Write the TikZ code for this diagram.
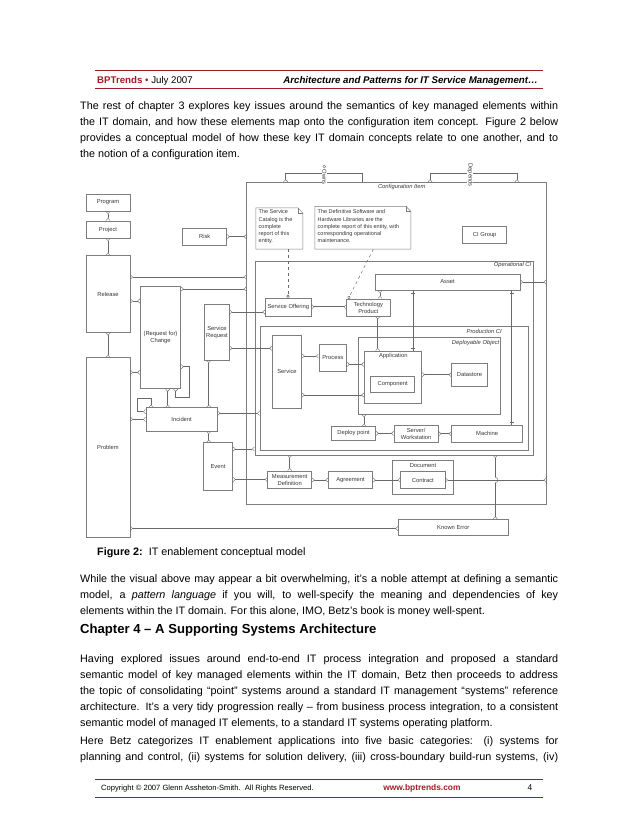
\documentclass[tikz,border=0pt]{standalone}
\usepackage{fontspec}
\setmainfont{Liberation Sans}
\usetikzlibrary{arrows.meta,decorations.markings}
\definecolor{bpred}{RGB}{158,30,38}
\definecolor{linec}{RGB}{105,105,105}
\definecolor{boxc}{RGB}{125,125,125}
\definecolor{txtc}{RGB}{55,55,55}
\newcommand\bodyfnt{\fontsize{10.8}{12}\selectfont}
\newcommand\dgfnt{\fontsize{5.8}{6.8}\selectfont}
\newcommand\notefnt{\fontsize{5.5}{7.25}\selectfont}
\newcommand\bx[7][box]{%
  \pgfmathsetmacro\bxw{#5-#3}\pgfmathsetmacro\bxh{#6-#4}%
  \pgfmathsetmacro\bxcx{(#3+#5)/2}\pgfmathsetmacro\bxcy{(#4+#6)/2}%
  \node[#1, minimum width=\bxw pt, minimum height=\bxh pt] (#2) at (\bxcx,\bxcy) {#7};}
\newcommand\jline[3]{\node[anchor=base west,inner sep=0pt,font=\bodyfnt] (#1) at (80,#2) {\makebox[478pt][s]{#3}};}
\newcommand\lline[3]{\node[anchor=base west,inner sep=0pt,font=\bodyfnt] (#1) at (80,#2) {#3};}
\begin{document}
\begin{tikzpicture}[x=1pt,y=-1pt,
  crow/.tip={Straight Barb[reversed,length=2.2pt,width=4.2pt,line width=0.4pt]},
  rel/.style={draw=linec,line width=0.45pt,crow-crow},
  relend/.style={draw=linec,line width=0.45pt,-crow},
  relstart/.style={draw=linec,line width=0.45pt,crow-},
  plain/.style={draw=linec,line width=0.45pt},
  one/.style={draw=linec,line width=0.45pt,postaction={decorate,decoration={markings,
     mark=at position 2.5pt with {\draw[linec,line width=0.45pt] (0pt,-2pt)--(0pt,2pt);},
     mark=at position -2.5pt with {\draw[linec,line width=0.45pt] (0pt,-2pt)--(0pt,2pt);}}}},
  notel/.style={draw=linec,line width=0.45pt,dashed,-{Circle[open,length=3pt,fill=white]}},
  box/.style={draw=boxc,line width=0.5pt,fill=white,text=txtc,font=\dgfnt,inner sep=0.5pt,align=center},
  cont/.style={draw=boxc,line width=0.5pt,fill=white},
  ghost/.style={draw=none,inner sep=0pt},
  clabel/.style={font=\dgfnt\itshape,text=txtc,inner sep=0.5pt},
  dlabel/.style={font=\dgfnt,text=txtc,inner sep=0.5pt},
  hdr/.style={draw=bpred,line width=1pt}]
\useasboundingbox (0,0) rectangle (638,826);
\fill[white] (0,0) rectangle (638,826);

% ---------- header ----------
\draw[hdr] (95,71) -- (543,71);
\draw[hdr] (95,89) -- (543,89);
\node[anchor=base west,inner sep=0pt,font=\fontsize{9.7}{11}\selectfont] (hleft) at (97,83.5)
  {\textcolor{bpred}{\bfseries BPTrends} \textcolor{bpred}{•} July 2007};
\node[anchor=base east,inner sep=0pt,font=\fontsize{9.7}{11}\selectfont\bfseries\itshape] (hright) at (538,83.5)
  {Architecture and Patterns for IT Service Management…};

% ---------- paragraph 1 ----------
\jline{p1a}{110}{The rest of chapter 3 explores key issues around the semantics of key managed elements within}
\jline{p1b}{126}{the IT domain, and how these elements map onto the configuration item concept. Figure 2 below}
\jline{p1c}{142}{provides a conceptual model of how these key IT domain concepts relate to one another, and to}
\lline{p1d}{158}{the notion of a configuration item.}

% ---------- diagram: containers ----------
\bx[cont]{ci}{246.7}{182.3}{546}{504.5}{}
\bx[cont]{opci}{255}{261}{533.3}{455}{}
\bx[cont]{prodci}{260}{326}{528.3}{450}{}
\bx[cont]{dobj}{358.3}{337.7}{500.7}{414.3}{}
\bx[cont]{app}{364.3}{351}{421.7}{403.3}{}
\bx[cont]{doc}{392.7}{460}{453.3}{494}{}
\node[clabel] (cilab) at (401.7,187.5) {Configuration Item};
\node[clabel,anchor=east] (opcilab) at (532,265.5) {Operational CI};
\node[clabel,anchor=east] (prodcilab) at (502.5,331.7) {Production CI};
\node[clabel,anchor=east] (dobjlab) at (500,342.7) {Deployable Object};
\node[dlabel] (applab) at (393.3,356) {Application};
\node[dlabel] (doclab) at (423,465.5) {Document};

% ---------- diagram: boxes ----------
\bx{program}{86}{194}{130}{211}{Program}
\bx{project}{86}{221}{130}{238}{Project}
\bx{release}{86}{255.7}{130}{332.5}{Release}
\bx{problem}{86}{357.7}{130}{537.7}{Problem}
\bx{change}{140.3}{286}{180.7}{388.7}{(Request for)\\Change}
\bx{sreq}{204.7}{304.3}{229.3}{360}{Service\\Request}
\bx{incident}{146}{407.7}{217.3}{431}{Incident}
\bx{event}{203.3}{442.7}{232.7}{490.7}{Event}
\bx{risk}{182.7}{228.3}{226.7}{245}{Risk}
\bx{cigroup}{462.7}{226.7}{506.7}{243.3}{CI Group}
\bx{asset}{375}{274}{520}{290}{Asset}
\bx{so}{265.3}{298}{311.3}{316}{Service Offering}
\bx{tp}{346.7}{299}{390}{316.3}{Technology\\Product}
\bx{service}{272.3}{335}{301.7}{408.3}{Service}
\bx{process}{319}{344.3}{346.7}{371.7}{Process}
\bx{component}{370.7}{376}{414.7}{392.7}{Component}
\bx{datastore}{451.7}{363.3}{487.3}{386}{Datastore}
\bx{dp}{331.3}{426.7}{375.7}{440}{Deploy point}
\bx{sw}{394}{425}{438.3}{442.3}{Server/\\Workstation}
\bx{machine}{451.7}{425}{522.7}{442.3}{Machine}
\bx{md}{267.7}{471}{311.7}{488.3}{Measurement\\Definition}
\bx{agree}{328.3}{471.7}{372.7}{488.3}{Agreement}
\bx{contract}{400.7}{471.7}{445}{488.3}{Contract}
\bx{kerr}{398.3}{519.3}{508.3}{535.7}{Known Error}

% ---------- notes ----------
\bx[ghost]{scnote}{256}{208}{302.7}{249}{}
\bx[ghost]{dslnote}{315}{206.7}{410.7}{249}{}
\foreach \n in {scnote,dslnote}{
  \draw[draw=boxc,line width=0.5pt,fill=white] (\n.north west) -- ([xshift=-5pt]\n.north east)
     -- ([yshift=-5pt]\n.north east) -- (\n.south east) -- (\n.south west) -- cycle;
  \draw[draw=boxc,line width=0.5pt] ([xshift=-5pt]\n.north east) -- ([xshift=-5pt,yshift=-5pt]\n.north east)
     -- ([yshift=-5pt]\n.north east);
}
\node[anchor=north west,align=left,font=\notefnt,text=txtc,inner sep=0pt] (sctext) at (258.5,209.8)
  {The Service\\Catalog is the\\complete\\report of this\\entity.};
\node[anchor=north west,align=left,font=\notefnt,text=txtc,inner sep=0pt] (dsltext) at (317.5,209.8)
  {The Definitive Software and\\Hardware Libraries are the\\complete report of this entity, with\\corresponding operational\\maintenance.};
\draw[notel] (scnote.south -| 288,0) -- (so.north -| 288,0);
\draw[notel] (dslnote.south -| 373.3,0) -- (tp.north -| 348.3,0);

% ---------- connectors ----------
\draw[rel] (program.south) -- (project.north);
\draw[rel] (project.south) -- (release.north);
\draw[rel] (release.south) -- (problem.north);
\draw[rel] (release.east |- 0,277) -- (ci.west |- 0,277);
\draw[rel] (change.east |- 0,289) -- (ci.west |- 0,289);
\draw[rel] (release.east |- 0,301) -- (change.west |- 0,301);
\draw[rel] (risk.east) -- (ci.west |- risk.east);
\draw[rel] (sreq.east |- 0,312) -- (so.west |- 0,312);
\draw[rel] (sreq.east |- 0,348.3) -- (service.west |- 0,348.3);
\draw[rel] (problem.east |- 0,372.3) -- (change.west |- 0,372.3);
\draw[rel] (change.east |- 0,366.7) -- (189.3,366.7) -- (189.3,397.7) -- (175.7,397.7) -- (change.south -| 175.7,0);
\draw[rel] (change.south -| 167.7,0) -- (incident.north -| 167.7,0);
\draw[rel] (incident.west |- 0,411.7) -- (137.3,411.7) -- (137.3,398.3) -- (151,398.3) -- (incident.north -| 151,0);
\draw[rel] (sreq.south -| 208.7,0) -- (incident.north -| 208.7,0);
\draw[rel] (problem.east |- 0,419.3) -- (incident.west |- 0,419.3);
\draw[rel] (incident.east |- 0,413.3) -- (prodci.west |- 0,413.3);
\draw[rel] (incident.south -| 208.7,0) -- (event.north -| 208.7,0);
\draw[rel] (event.east |- 0,449) -- (opci.west |- 0,449);
\draw[rel] (event.east |- 0,479.5) -- (md.west |- 0,479.5);
\draw[rel] (md.north) -- (opci.south -| md.north);
\draw[rel] (md.east |- 0,480) -- (agree.west |- 0,480);
\draw[rel] (agree.east |- 0,480) -- (contract.west |- 0,480);
\draw[rel] (contract.east |- 0,480) -- (ci.east |- 0,480);
% Operational CI -- Known Error, hopping over the Contract line
\coordinate (hopa) at (495.2,477.2);
\coordinate (hopb) at (495.2,482.8);
\draw[relstart] (opci.south -| 495.2,0) -- (hopa);
\draw[plain] (hopa) .. controls (498.8,477.6) and (498.8,482.4) .. (hopb);
\draw[relend] (hopb) -- (kerr.north -| 495.2,0);
\draw[rel] (problem.east |- 0,528.5) -- (kerr.west |- 0,528.5);
\draw[rel] (so.east |- 0,306.7) -- (tp.west |- 0,306.7);
\draw[rel] (asset.south -| 380,0) -- (tp.north -| 380,0);
\draw[rel] (tp.south -| 377.7,0) -- (app.north -| 377.7,0);
\draw[one] (asset.south -| 413,0) -- (app.north -| 413,0);
\draw[one] (asset.south -| 511.7,0) -- (machine.north -| 511.7,0);
\draw[rel] (asset.east) -- (ci.east |- asset.east);
\draw[rel] (service.east |- 0,356) -- (process.west |- 0,356);
\draw[rel] (process.east |- 0,364.3) -- (app.west |- 0,364.3);
\draw[rel] (service.east |- 0,395) -- (app.west |- 0,395);
\draw[rel] (app.east |- datastore.west) -- (datastore.west);
\draw[rel] (dobj.south -| 364,0) -- (dp.north -| 364,0);
\draw[rel] (dp.east) -- (sw.west |- dp.east);
\draw[rel] (sw.east) -- (machine.west);

% ---------- self associations on Configuration Item ----------
\draw[relend] (ci.north -| 362.7,0) -- (362.7,173.3) -- (285.7,173.3) -- (ci.north -| 285.7,0);
\draw[rel] (ci.north -| 430,0) -- (430,173.3) -- (517,173.3) -- (ci.north -| 517,0);
\node[rotate=-90,fill=white,inner sep=0.6pt,font=\dgfnt,text=txtc] (owns) at (324.3,177) {Owns};
\node[circle,draw=linec,line width=0.4pt,fill=white,inner sep=0pt,minimum size=3pt] (ownsc) at (324.3,166.5) {};
\node[rotate=-90,fill=white,inner sep=0.6pt,font=\dgfnt,text=txtc] (depends) at (470,175) {Depends};

% ---------- caption and text ----------
\node[anchor=base west,inner sep=0pt,font=\bodyfnt] (cap) at (97,555)
  {\textbf{Figure 2:}\ \ IT enablement conceptual model};
\jline{p2a}{582}{While the visual above may appear a bit overwhelming, it’s a noble attempt at defining a semantic}
\jline{p2b}{598}{model, a \textit{pattern language} if you will, to well-specify the meaning and dependencies of key}
\lline{p2c}{614}{elements within the IT domain. For this alone, IMO, Betz’s book is money well-spent.}
\node[anchor=base west,inner sep=0pt,font=\fontsize{13.1}{15}\selectfont\bfseries] (h4) at (80,633)
  {Chapter 4 – A Supporting Systems Architecture};
\jline{p3a}{662}{Having explored issues around end-to-end IT process integration and proposed a standard}
\jline{p3b}{678}{semantic model of key managed elements within the IT domain, Betz then proceeds to address}
\jline{p3c}{694}{the topic of consolidating “point” systems around a standard IT management “systems” reference}
\jline{p3d}{710}{architecture. It’s a very tidy progression really – from business process integration, to a consistent}
\lline{p3e}{726}{semantic model of managed IT elements, to a standard IT systems operating platform.}
\jline{p4a}{744}{Here Betz categorizes IT enablement applications into five basic categories: (i) systems for}
\jline{p4b}{760}{planning and control, (ii) systems for solution delivery, (iii) cross-boundary build-run systems, (iv)}

% ---------- footer ----------
\draw[hdr] (95,779) -- (543,779);
\draw[hdr] (95,797) -- (543,797);
\node[anchor=base west,inner sep=0pt,font=\fontsize{7.6}{9}\selectfont] (copy) at (101,790.5)
  {Copyright © 2007 Glenn Assheton-Smith.\ \ All Rights Reserved.};
\node[anchor=base,inner sep=0pt,font=\fontsize{8.4}{10}\selectfont\bfseries,text=bpred] (www) at (422,790.5) {www.bptrends.com};
\node[anchor=base,inner sep=0pt,font=\fontsize{8.4}{10}\selectfont] (pg) at (530,790.5) {4};
\end{tikzpicture}
\end{document}
